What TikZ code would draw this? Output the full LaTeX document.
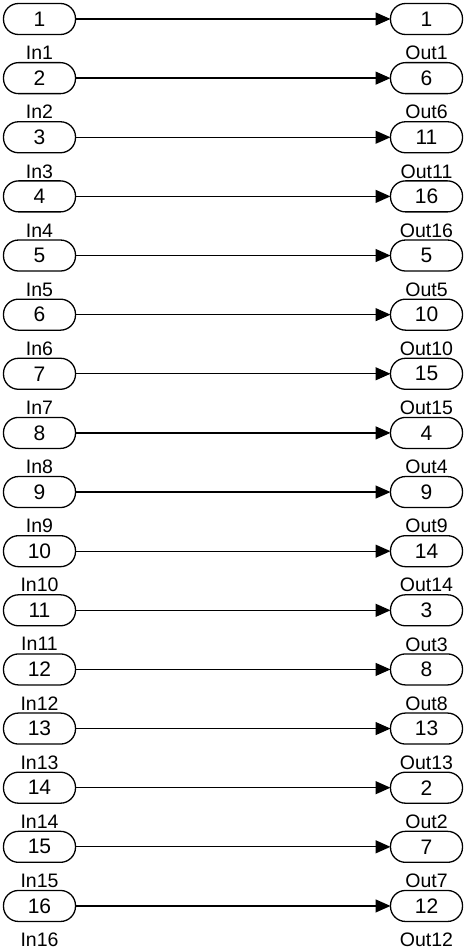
\documentclass[tikz,border=0pt]{standalone}
\usepackage{fontspec}
\setmainfont{Liberation Sans}
\usetikzlibrary{arrows.meta,positioning}
\tikzset{
	port/.style={draw, fill=white, line width=1.3pt, rounded corners=15pt, minimum width=72pt, minimum height=31pt, inner sep=0pt, outer sep=0pt, font=\fontsize{21}{24}\selectfont},
	plabel/.style={inner sep=0pt, label distance=11.5pt, font=\fontsize{19.5}{23}\selectfont},
	wire/.style={line width=1.3pt, -{Triangle[length=15pt,width=13pt]}},
}

\begin{document}
\begin{tikzpicture}
			%%%%% START %%%%%
			\useasboundingbox (0,0) rectangle (474pt,-950pt);
			
			\node[port, label={[plabel, name=inlab1]below:In1}] (in1) at (39.5pt,-19pt) {1};
			\node[port, label={[plabel, name=outlab1]below:Out1}] (out1) at (426.5pt,-19pt) {1};
			\draw[wire] (in1) -- (out1);
			
			\node[port, label={[plabel, name=inlab2]below:In2}] (in2) [below=28.13pt of in1] {2};
			\node[port, label={[plabel, name=outlab6]below:Out6}] (out6) [below=28.13pt of out1] {6};
			\draw[wire] (in2) -- (out6);
			
			\node[port, label={[plabel, name=inlab3]below:In3}] (in3) [below=28.13pt of in2] {3};
			\node[port, label={[plabel, name=outlab11]below:Out11}] (out11) [below=28.13pt of out6] {11};
			\draw[wire] (in3) -- (out11);
			
			\node[port, label={[plabel, name=inlab4]below:In4}] (in4) [below=28.13pt of in3] {4};
			\node[port, label={[plabel, name=outlab16]below:Out16}] (out16) [below=28.13pt of out11] {16};
			\draw[wire] (in4) -- (out16);
			
			\node[port, label={[plabel, name=inlab5]below:In5}] (in5) [below=28.13pt of in4] {5};
			\node[port, label={[plabel, name=outlab5]below:Out5}] (out5) [below=28.13pt of out16] {5};
			\draw[wire] (in5) -- (out5);
			
			\node[port, label={[plabel, name=inlab6]below:In6}] (in6) [below=28.13pt of in5] {6};
			\node[port, label={[plabel, name=outlab10]below:Out10}] (out10) [below=28.13pt of out5] {10};
			\draw[wire] (in6) -- (out10);
			
			\node[port, label={[plabel, name=inlab7]below:In7}] (in7) [below=28.13pt of in6] {7};
			\node[port, label={[plabel, name=outlab15]below:Out15}] (out15) [below=28.13pt of out10] {15};
			\draw[wire] (in7) -- (out15);
			
			\node[port, label={[plabel, name=inlab8]below:In8}] (in8) [below=28.13pt of in7] {8};
			\node[port, label={[plabel, name=outlab4]below:Out4}] (out4) [below=28.13pt of out15] {4};
			\draw[wire] (in8) -- (out4);
			
			\node[port, label={[plabel, name=inlab9]below:In9}] (in9) [below=28.13pt of in8] {9};
			\node[port, label={[plabel, name=outlab9]below:Out9}] (out9) [below=28.13pt of out4] {9};
			\draw[wire] (in9) -- (out9);
			
			\node[port, label={[plabel, name=inlab10]below:In10}] (in10) [below=28.13pt of in9] {10};
			\node[port, label={[plabel, name=outlab14]below:Out14}] (out14) [below=28.13pt of out9] {14};
			\draw[wire] (in10) -- (out14);
			
			\node[port, label={[plabel, name=inlab11]below:In11}] (in11) [below=28.13pt of in10] {11};
			\node[port, label={[plabel, name=outlab3]below:Out3}] (out3) [below=28.13pt of out14] {3};
			\draw[wire] (in11) -- (out3);
			
			\node[port, label={[plabel, name=inlab12]below:In12}] (in12) [below=28.13pt of in11] {12};
			\node[port, label={[plabel, name=outlab8]below:Out8}] (out8) [below=28.13pt of out3] {8};
			\draw[wire] (in12) -- (out8);
			
			\node[port, label={[plabel, name=inlab13]below:In13}] (in13) [below=28.13pt of in12] {13};
			\node[port, label={[plabel, name=outlab13]below:Out13}] (out13) [below=28.13pt of out8] {13};
			\draw[wire] (in13) -- (out13);
			
			\node[port, label={[plabel, name=inlab14]below:In14}] (in14) [below=28.13pt of in13] {14};
			\node[port, label={[plabel, name=outlab2]below:Out2}] (out2) [below=28.13pt of out13] {2};
			\draw[wire] (in14) -- (out2);
			
			\node[port, label={[plabel, name=inlab15]below:In15}] (in15) [below=28.13pt of in14] {15};
			\node[port, label={[plabel, name=outlab7]below:Out7}] (out7) [below=28.13pt of out2] {7};
			\draw[wire] (in15) -- (out7);
			
			\node[port, label={[plabel, name=inlab16]below:In16}] (in16) [below=28.13pt of in15] {16};
			\node[port, label={[plabel, name=outlab12]below:Out12}] (out12) [below=28.13pt of out7] {12};
			\draw[wire] (in16) -- (out12);
			%%%%% END %%%%%
		\end{tikzpicture}
\end{document}
